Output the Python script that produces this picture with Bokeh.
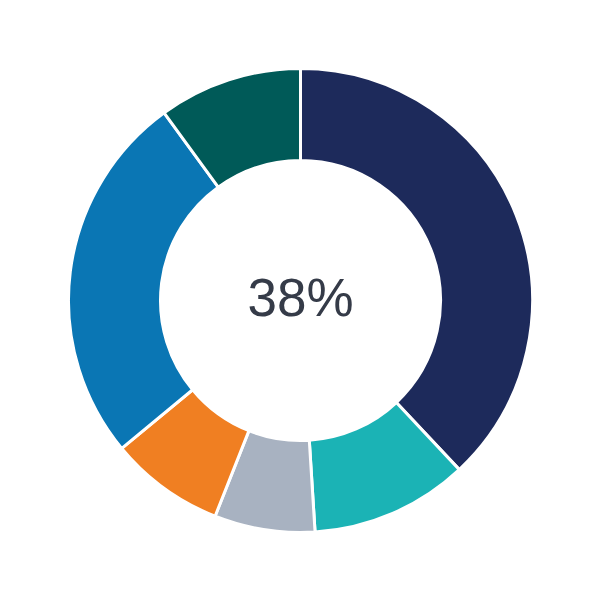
import math
from bokeh.plotting import figure
from bokeh.models import ColumnDataSource, Range1d
from bokeh.core.properties import value
from bokeh.embed import file_html
from bokeh.resources import INLINE

categories = ["A", "B", "C", "D", "E", "F"]
shares = [38, 11, 7, 8, 26, 10]
colors = ["#1d2a5b", "#1bb3b5", "#a8b2c1", "#f07f22", "#0a76b4", "#005a58"]
center_label = "38%"

total = float(sum(shares))
starts, ends = [], []
cum = 0.0
for s in shares:
    starts.append(math.pi / 2 - 2 * math.pi * cum / total)
    cum += s
    ends.append(math.pi / 2 - 2 * math.pi * cum / total)

src = ColumnDataSource(dict(cat=categories, val=shares, color=colors,
                            start=starts, end=ends))

W = 600
p = figure(width=W, height=W, output_backend="svg", toolbar_location=None,
           x_range=Range1d(-W / 2, W / 2), y_range=Range1d(-W / 2, W / 2),
           min_border=0)
p.axis.visible = False
p.grid.visible = False
p.outline_line_color = None
p.background_fill_color = "white"
p.border_fill_color = "white"

p.annular_wedge(x=0, y=0, inner_radius=140, outer_radius=232,
                start_angle="start", end_angle="end", direction="clock",
                fill_color="color", line_color="white", line_width=3,
                source=src)

p.text(x=[0], y=[3], text=[center_label], text_align="center",
       text_baseline="middle", text_font=value("Liberation Sans"),
       text_font_size="53px", text_color="#353b48")

open("out.html", "w").write(file_html(p, INLINE))
